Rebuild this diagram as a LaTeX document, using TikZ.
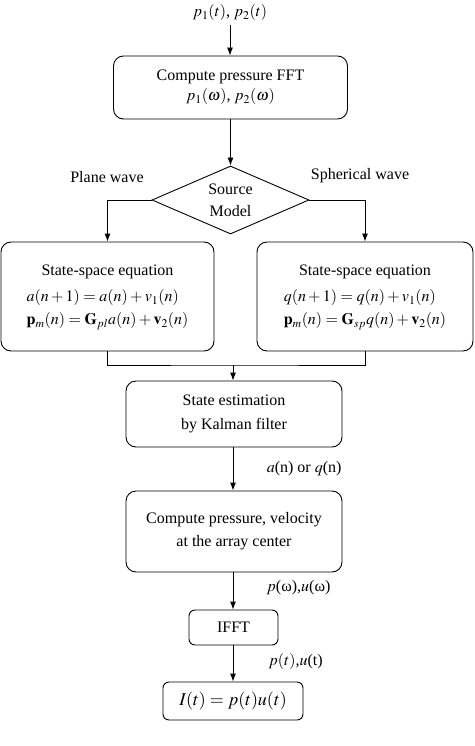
\documentclass[tikz,border=0pt]{standalone}
\usepackage{mathptmx}
\usepackage{fontspec}
\setmainfont{Liberation Serif}
\usetikzlibrary{arrows.meta,shapes.geometric}

\begin{document}
\begin{tikzpicture}[
  x=1pt, y=-1pt,
  every node/.style = {font=\fontsize{16}{19}\selectfont},
  stepbox/.style = {draw, rounded corners=10pt, line width=0.9pt, inner sep=0pt, align=center},
  choice/.style = {draw, diamond, line width=0.9pt, inner sep=0pt, aspect=2.3, minimum width=157pt, minimum height=68pt, align=center},
  flow/.style = {-{Latex[length=8pt,width=6pt]}, line width=0.9pt},
  link/.style = {line width=0.9pt}
]
  \useasboundingbox (0,0) rectangle (474,746);

  % input
  \node (input) at (230,13) {$p_1(t)$, $p_2(t)$};
  \node[stepbox, minimum width=234pt, minimum height=63pt] (fft) at (230.5,87.5)
    {Compute pressure FFT\\[1pt] $p_1(\omega)$, $p_2(\omega)$};
  \node[choice] (model) at (230.5,200) {Source\\[3pt] Model};

  % two models
  \node[stepbox, minimum width=213pt, minimum height=109pt] (plane) at (107.5,296.5)
    {\begin{tabular}{@{}l@{}}
      \multicolumn{1}{c}{State-space equation}\\[7pt]
      $a(n+1)=a(n)+v_1(n)$\\[4pt]
      $\mathbf{p}_m(n)=\mathbf{G}_{pl}a(n)+\mathbf{v}_2(n)$
    \end{tabular}};
  \node[stepbox, minimum width=216pt, minimum height=109pt] (sphere) at (365,296.5)
    {\begin{tabular}{@{}l@{}}
      \multicolumn{1}{c}{State-space equation}\\[7pt]
      $q(n+1)=q(n)+v_1(n)$\\[4pt]
      $\mathbf{p}_m(n)=\mathbf{G}_{sp}q(n)+\mathbf{v}_2(n)$
    \end{tabular}};
  \node (planelbl) at (107,177) {Plane wave};
  \node (spherelbl) at (360,176) {Spherical wave};

  % estimation chain
  \node[stepbox, minimum width=216pt, minimum height=66pt] (kalman) at (234,414)
    {State estimation\\[5pt] by Kalman filter};
  \node[stepbox, minimum width=216pt, minimum height=81pt] (center) at (234,531.5)
    {Compute pressure, velocity\\[4pt] at the array center};
  \node[stepbox, minimum width=89pt, minimum height=35pt, rounded corners=6pt] (ifft) at (233.5,627.5) {IFFT};
  \node[stepbox, minimum width=140pt, minimum height=38pt, rounded corners=6pt,
    font=\fontsize{18}{21}\selectfont] (intensity) at (233,701) {$I(t)=p(t)u(t)$};

  \coordinate (join) at (233,365);

  \draw[flow] (input) -- (fft.north -| input);
  \draw[flow] (fft) -- (model);
  \draw[flow] (model.west) -| (plane.north);
  \draw[flow] (model.east) -| (sphere.north);
  \draw[link] (plane.south) |- (join) -| (sphere.south);
  \draw[flow] (join) -- (kalman.north -| join);
  \draw[flow] (kalman.south -| join) -- node[right=30pt] {$a$(n) or $q$(n)} (center.north -| join);
  \draw[flow] (center.south -| join) -- node[right=30pt, yshift=3pt] {$p$(ω),$u$(ω)} (ifft.north -| join);
  \draw[flow] (ifft.south -| join) -- node[right=32pt, yshift=2pt] {$p(t)$,$u$(t)} (intensity.north -| join);
\end{tikzpicture}
\end{document}
